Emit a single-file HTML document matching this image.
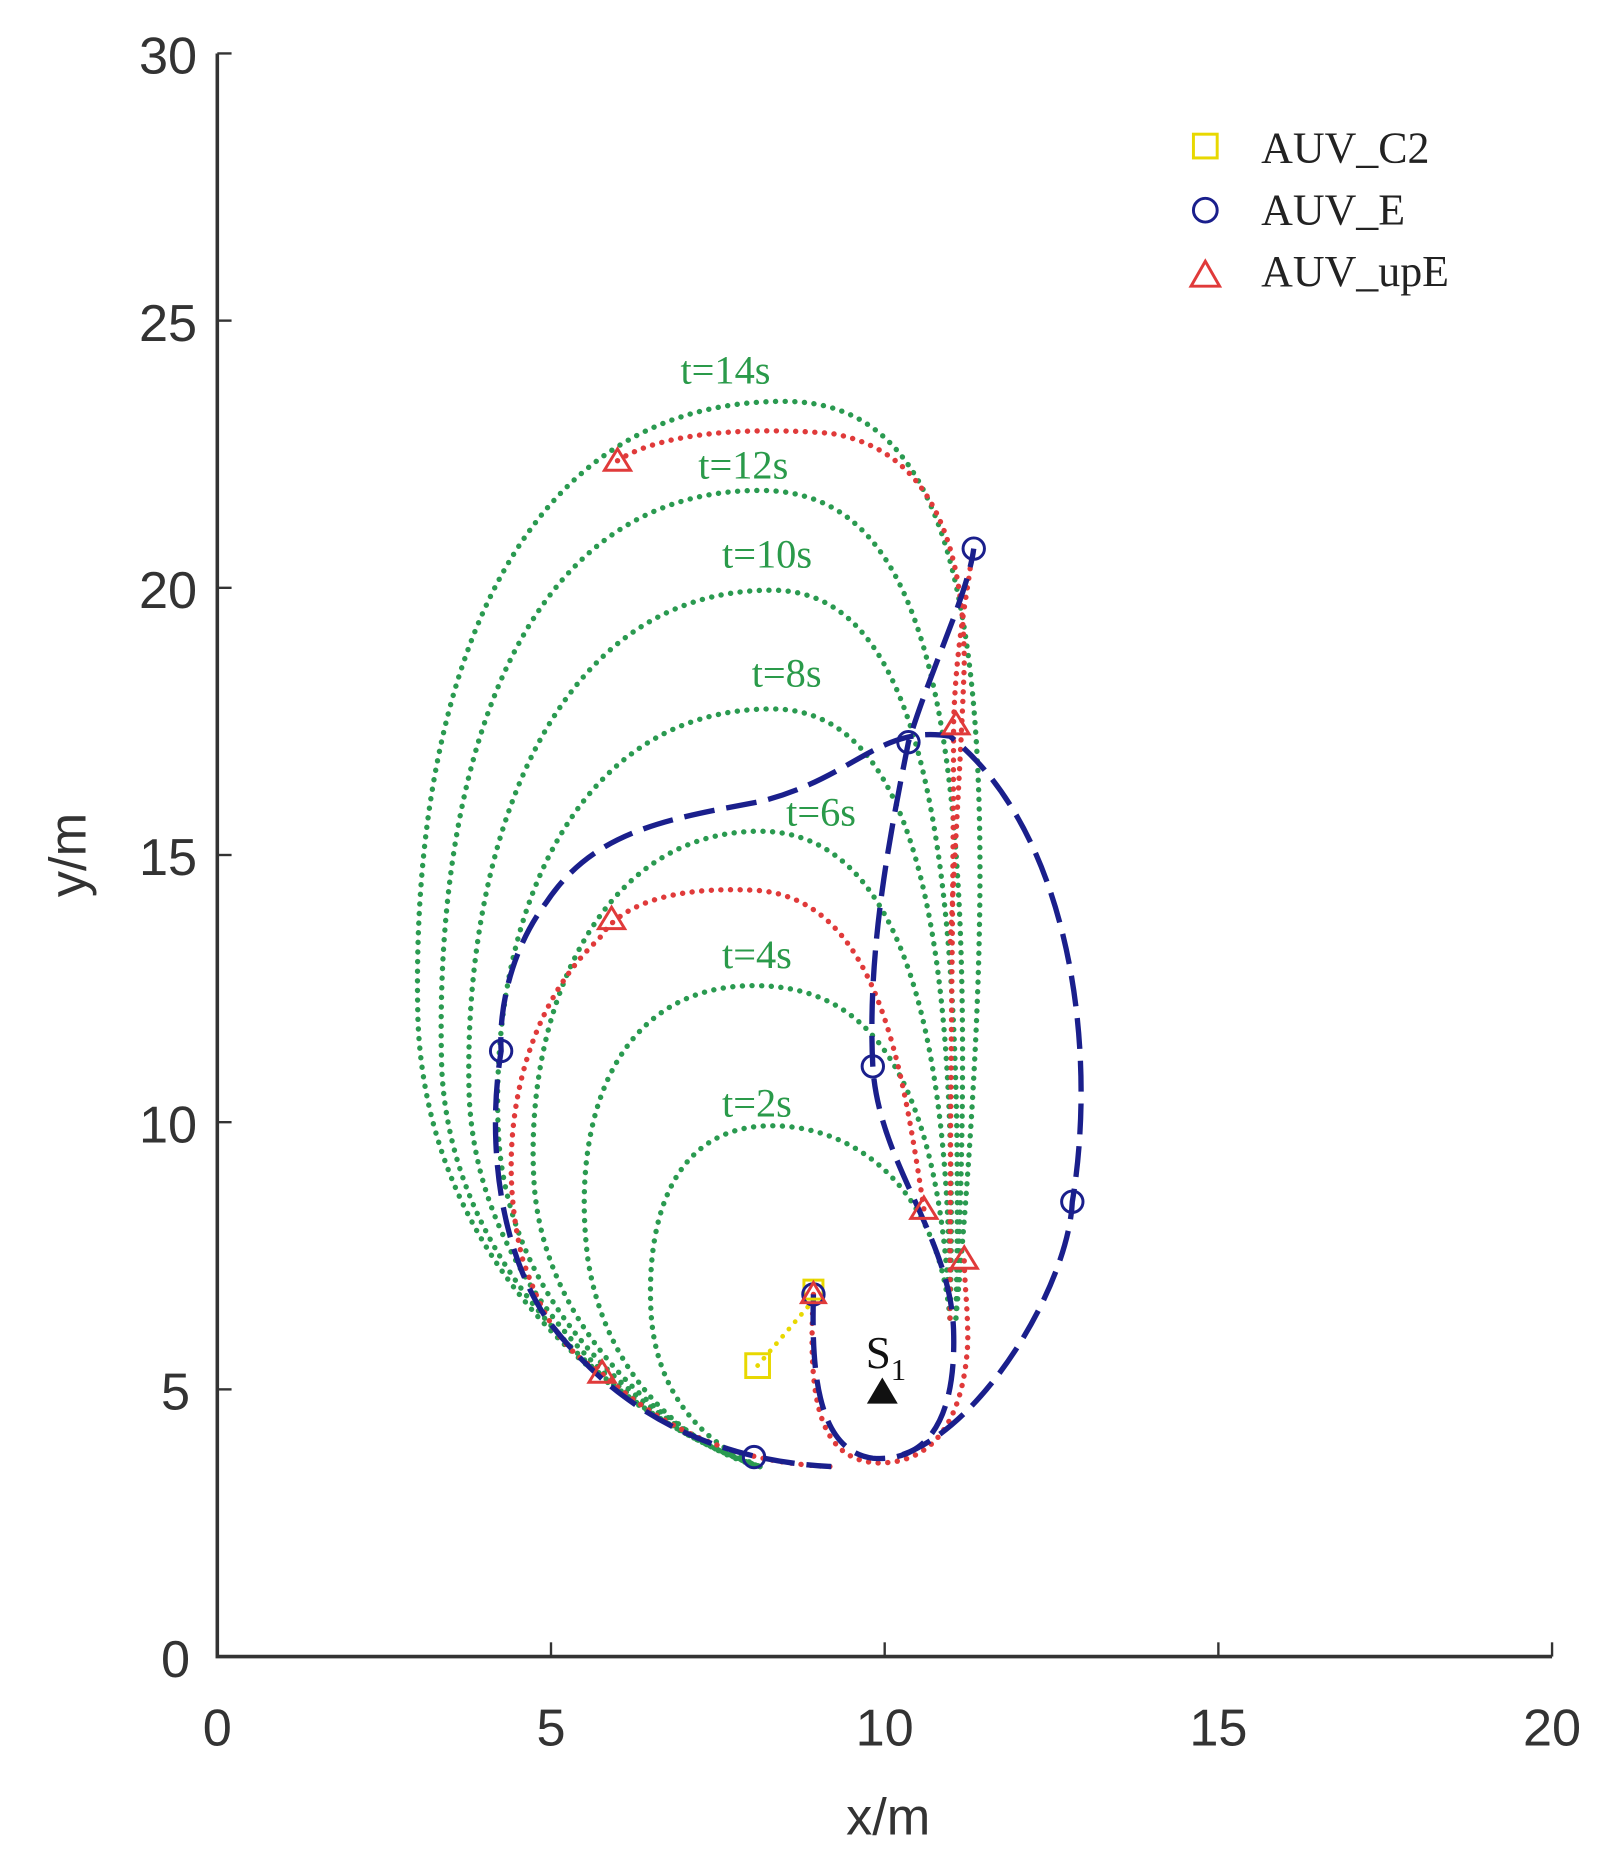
<!DOCTYPE html>
<html><head><meta charset="utf-8"><style>
html,body{margin:0;padding:0;background:#fff;}
svg{display:block;}
.tk{font-family:"Liberation Sans",sans-serif;font-size:44px;fill:#333;}
.lg{font-family:"Liberation Serif",serif;font-size:37px;fill:#222;}
.tl{font-family:"Liberation Serif",serif;font-size:34px;fill:#2a9a4a;}
.g{fill:none;stroke:#2a9a50;stroke-width:4.5;stroke-dasharray:0.1 8;stroke-linecap:round;}
.r{fill:none;stroke:#e03a3a;stroke-width:4.5;stroke-dasharray:0.1 8;stroke-linecap:round;}
.b{fill:none;stroke:#1a1f8c;stroke-width:4.5;stroke-dasharray:26 10;}
</style></head><body>
<svg width="1615" height="1862" viewBox="0 0 1360 1568" xmlns="http://www.w3.org/2000/svg">
<path d="M183,45 V1395 H1307" fill="none" stroke="#333" stroke-width="3"/>
<g stroke="#333" stroke-width="2">
<line x1="183" y1="45" x2="195" y2="45"/><line x1="183" y1="270" x2="195" y2="270"/>
<line x1="183" y1="495" x2="195" y2="495"/><line x1="183" y1="720" x2="195" y2="720"/>
<line x1="183" y1="945" x2="195" y2="945"/><line x1="183" y1="1170" x2="195" y2="1170"/>
<line x1="464" y1="1395" x2="464" y2="1383"/><line x1="745" y1="1395" x2="745" y2="1383"/>
<line x1="1026" y1="1395" x2="1026" y2="1383"/><line x1="1307" y1="1395" x2="1307" y2="1383"/>
</g>
<g class="tk" text-anchor="end">
<text x="166" y="62">30</text><text x="166" y="287">25</text><text x="166" y="512">20</text>
<text x="166" y="737">15</text><text x="166" y="962">10</text><text x="160" y="1187">5</text><text x="160" y="1412">0</text>
</g>
<g class="tk" text-anchor="middle">
<text x="183" y="1470">0</text><text x="464" y="1470">5</text><text x="745" y="1470">10</text>
<text x="1026" y="1470">15</text><text x="1307" y="1470">20</text>
</g>
<text class="tk" x="748" y="1545" text-anchor="middle">x/m</text>
<text class="tk" transform="translate(72,720) rotate(-90)" text-anchor="middle">y/m</text>

<g class="g">
<path d="M800,1110 C790,1000 720,948 650,948 C570,948 545,1020 548,1100 C550,1170 590,1215 640,1235"/>
<path d="M800,1110 C790,900 730,830 635,830 C520,830 480,940 495,1060 C510,1160 580,1220 640,1235"/>
<path d="M800,1110 C800,820 740,700 640,700 C500,700 440,860 450,1000 C460,1120 560,1210 640,1235"/>
<path d="M800,1110 C810,720 750,597 650,597 C480,597 410,780 420,960 C430,1100 540,1200 640,1235"/>
<path d="M805,1110 C815,650 760,497 650,497 C460,497 390,720 395,920 C400,1080 530,1200 640,1235"/>
<path d="M805,1110 C830,560 770,413 640,413 C430,413 365,660 372,900 C380,1070 520,1195 640,1235"/>
<path d="M805,1110 C860,500 800,338 660,338 C420,338 345,600 352,860 C360,1060 510,1190 640,1235"/>
</g>
<g class="tl">
<text x="608" y="940">t=2s</text><text x="608" y="815">t=4s</text><text x="662" y="695">t=6s</text>
<text x="633" y="578">t=8s</text><text x="608" y="478">t=10s</text><text x="588" y="403">t=12s</text><text x="573" y="323">t=14s</text>
</g>

<g class="r">
<path d="M685,1090 C680,1180 690,1230 740,1232 C790,1232 812,1190 815,1130 C815,1100 812,1080 812,1060"/>
<path d="M800,1110 C800,900 803,750 803,610 C805,540 815,500 818,470"/>
<path d="M778,1018 C760,900 740,760 640,750 C560,745 520,765 505,790 C440,850 415,960 440,1060 C460,1120 480,1140 505,1155 C560,1205 620,1232 700,1235"/>
<path d="M520,388 C560,362 640,360 700,365 C790,380 812,470 812,560 C810,620 805,700 800,800"/>
</g>

<g class="b">
<path d="M685,1090 C683,1160 690,1222 735,1228 C790,1232 805,1180 803,1120 C800,1040 740,980 735,898 C730,800 750,700 765,625 C785,560 815,500 820,462"/>
<path d="M760,1225 C830,1200 900,1080 903,1012 C925,880 900,700 800,620 C740,610 720,655 640,675 C560,690 500,700 460,760 C430,800 420,850 422,885 C410,960 420,1050 460,1110 C520,1190 600,1230 700,1235"/>
</g>

<path d="M638,1150 L685,1095" fill="none" stroke="#e8d800" stroke-width="4" stroke-dasharray="0.1 8" stroke-linecap="round"/>
<rect x="628" y="1140" width="20" height="20" fill="none" stroke="#e8d800" stroke-width="2.5"/>
<rect x="677" y="1078" width="16" height="16" fill="none" stroke="#e8d800" stroke-width="2.5"/>

<g fill="none" stroke="#1a1f8c" stroke-width="2.5">
<circle cx="685" cy="1090" r="9"/><circle cx="635" cy="1227" r="9"/><circle cx="422" cy="885" r="9"/>
<circle cx="735" cy="898" r="9"/><circle cx="903" cy="1012" r="9"/><circle cx="765" cy="625" r="9"/><circle cx="820" cy="462" r="9"/>
</g>
<g fill="none" stroke="#e03a3a" stroke-width="2.5">
<path d="M685,1080 l-10,17 h20z"/><path d="M507,1146 l-11,18 h22z"/><path d="M515,764 l-11,18 h22z"/>
<path d="M520,378 l-11,18 h22z"/><path d="M778,1008 l-11,18 h22z"/><path d="M812,1050 l-11,18 h22z"/><path d="M805,600 l-11,18 h22z"/>
</g>

<text x="729" y="1152" font-family="Liberation Serif,serif" font-size="38" fill="#111">S<tspan font-size="26" dy="10">1</tspan></text>
<path d="M743,1160 l-13,22 h26z" fill="#111"/>

<rect x="1005" y="113" width="20" height="20" fill="none" stroke="#e8d800" stroke-width="2.5"/>
<circle cx="1015" cy="177" r="10" fill="none" stroke="#1a1f8c" stroke-width="2.5"/>
<path d="M1015,220 l-12,21 h24z" fill="none" stroke="#e03a3a" stroke-width="2.5"/>
<text class="lg" x="1062" y="137">AUV_C2</text>
<text class="lg" x="1062" y="189">AUV_E</text>
<text class="lg" x="1062" y="241">AUV_upE</text>
</svg>
</body></html>
